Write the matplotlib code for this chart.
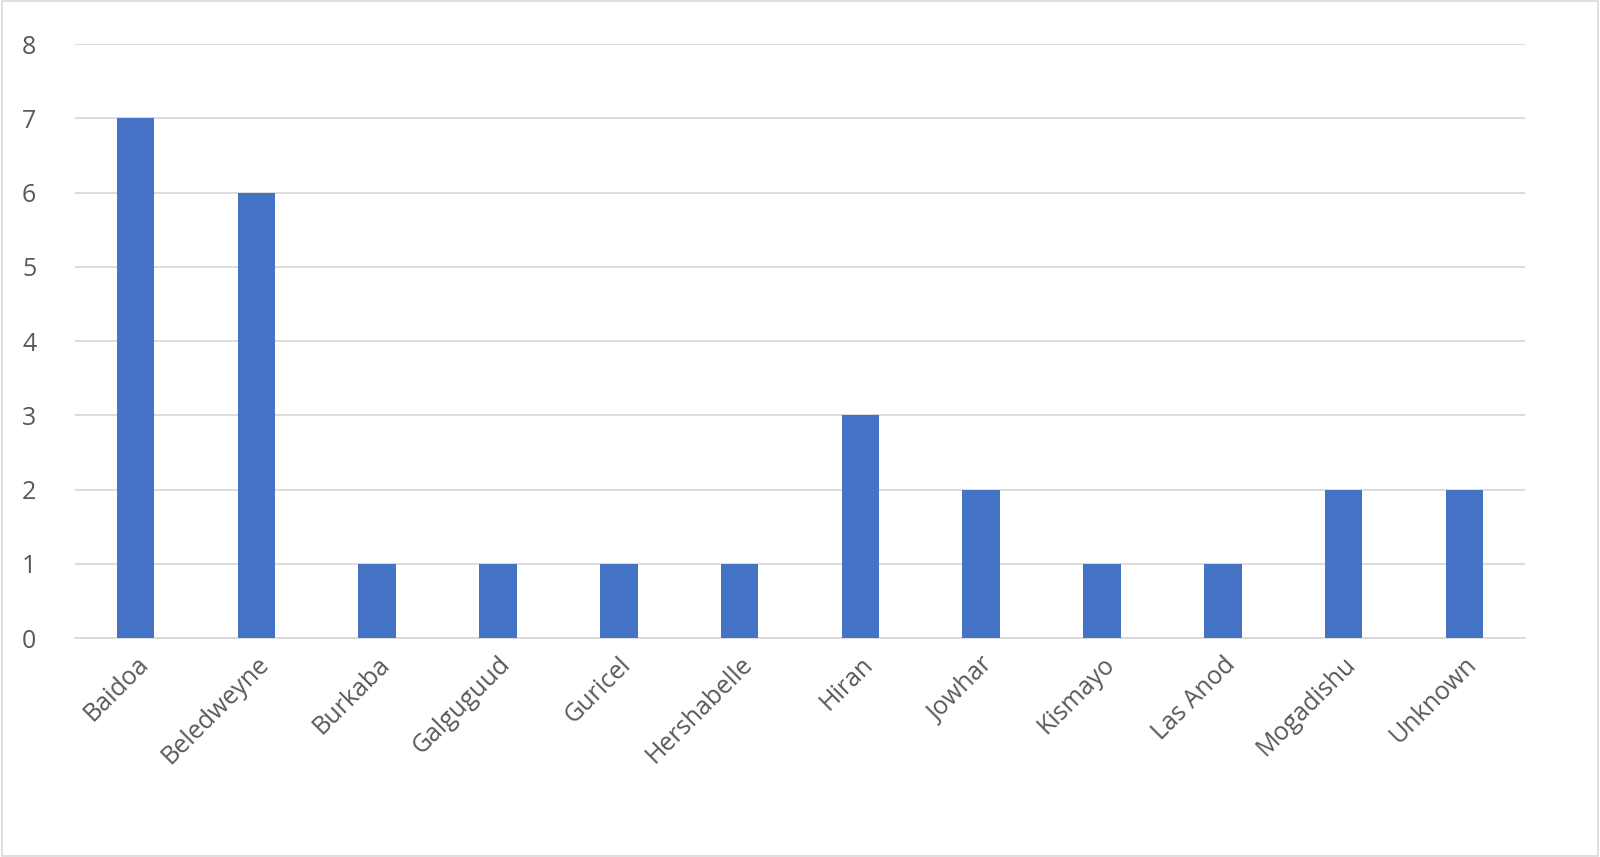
import matplotlib
matplotlib.use("Agg")
import matplotlib.pyplot as plt
from matplotlib.patches import Rectangle

categories = ["Baidoa", "Beledweyne", "Burkaba", "Galguguud", "Guricel", "Hershabelle",
              "Hiran", "Jowhar", "Kismayo", "Las Anod", "Mogadishu", "Unknown"]
values = [7, 6, 1, 1, 1, 1, 3, 2, 1, 1, 2, 2]
yticks = [0, 1, 2, 3, 4, 5, 6, 7, 8]

plt.rcParams['font.family'] = ['Open Sans', 'DejaVu Sans']
fig = plt.figure(figsize=(16, 8.57), dpi=100)
ax = fig.add_axes([0.047, 0.2555, 0.906, 0.693])
x = range(len(categories))
ax.bar(x, values, width=0.31, color="#4472C4", zorder=3)
ax.set_xlim(-0.5, len(categories) - 0.5)
ax.set_ylim(0, 8)
ax.set_yticks(yticks)
ax.set_xticks(list(x))
ax.set_xticklabels(categories, rotation=45, ha="right", va="top", rotation_mode="anchor")
ax.tick_params(axis="both", length=0, labelsize=18, labelcolor="#595959")
ax.tick_params(axis="y", pad=28)
ax.tick_params(axis="x", pad=10)
ax.grid(axis="y", color="#D9D9D9", linewidth=1.3, zorder=0)
for s in ["top", "right", "left"]:
    ax.spines[s].set_visible(False)
ax.spines["bottom"].set_color("#D9D9D9")
ax.spines["bottom"].set_linewidth(1.3)
fig.patches.append(Rectangle((0.001, 0.001), 0.998, 0.998, transform=fig.transFigure,
                             fill=False, edgecolor="#D9D9D9", linewidth=1.2))
fig.savefig("out.png", dpi=100)
